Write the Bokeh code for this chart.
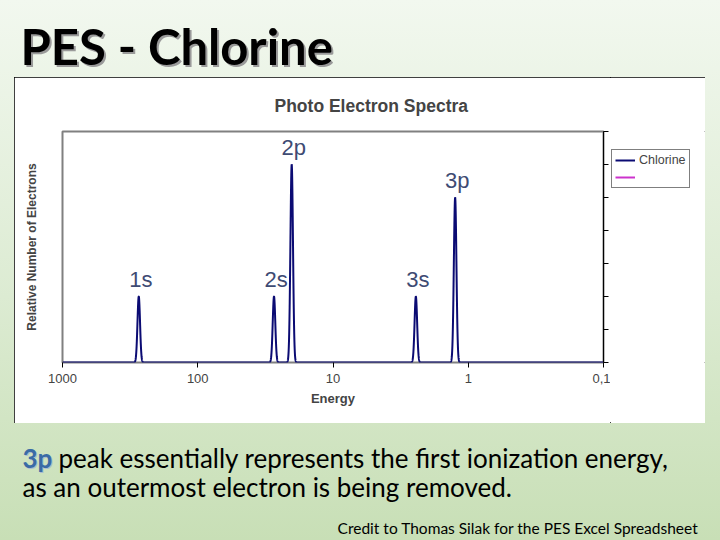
import numpy as np
from bokeh.plotting import figure
from bokeh.models import (Range1d, LogAxis, LinearAxis, FixedTicker, CustomJSTickFormatter,
                          Legend, LegendItem, Spacer, Row, Column)
from bokeh.core.properties import value
from bokeh.embed import file_html
from bokeh.resources import INLINE

# ---------------- data ----------------
ORBITALS = ["1s", "2s", "2p", "3s", "3p"]
ENERGIES = [273, 27.3, 20.2, 2.44, 1.25]      # ionisation energy
ELECTRONS = [2, 2, 6, 2, 5]                  # relative number of electrons
X_TICKS = [1000, 100, 10, 1, 0.1]
X_TICK_LABELS = ["1000", "100", "10", "1", "0,1"]
Y_TICKS = [0, 1, 2, 3, 4, 5, 6, 7]
SERIES = ["Chlorine", " "]                    # second (empty) series has no name
LINE_COLORS = ["#0b0b73", "#cc33cc"]

# spectrum line built from the peaks (narrow peaks on a log energy axis)
xs = np.logspace(3, -1, 8001)
lx = np.log10(xs)
ys = np.zeros_like(xs)
for e, n in zip(ENERGIES, ELECTRONS):
    ys += n * np.exp(-0.5 * ((lx - np.log10(e)) / 0.0095) ** 2)

# ---------------- layout (page pixels) ----------------
W, H = 720, 540
PANEL_L, PANEL_R, PANEL_T, PANEL_B = 14, 705, 77, 423
PH = PANEL_B - PANEL_T
LEG_X, LEG_B = 610, 188                       # legend strip left edge / legend bottom
CW = LEG_X - PANEL_L                          # chart figure width
FL, FR, FT, FB = 62 - PANEL_L, 603 - PANEL_L, 130 - PANEL_T, 362 - PANEL_T


def deco_fig(w, h):
    f = figure(width=w, height=h, x_range=Range1d(0, w), y_range=Range1d(h, 0),
               output_backend="svg", toolbar_location=None,
               x_axis_location=None, y_axis_location=None,
               min_border=0, min_border_left=0, min_border_right=0,
               min_border_top=0, min_border_bottom=0)
    f.grid.visible = False
    f.outline_line_color = None
    f.background_fill_alpha = 0
    f.border_fill_alpha = 0
    return f


# ---- top: slide title ----
top = deco_fig(W, PANEL_T)
for dx, col in ((2, "#9a9a9a"), (0, "black")):
    top.text(x=[20 + dx], y=[74 + dx], text=["PES - Chlorine"], text_font=value("Lato"),
             text_font_style="bold", text_font_size="49px", text_color=col,
             text_baseline="bottom")

# ---- middle: chart ----
p = figure(width=CW, height=PH, output_backend="svg", toolbar_location=None,
           x_axis_type="log", x_range=Range1d(1000, 0.1), y_range=Range1d(0, 7),
           x_axis_location=None, y_axis_location=None,
           min_border_left=FL, min_border_right=CW - FR,
           min_border_top=FT, min_border_bottom=PH - FB)
p.grid.visible = False
p.background_fill_color = "white"
p.border_fill_color = "white"
p.outline_line_color = "#808080"
p.outline_line_width = 2

p.title.text = "Photo Electron Spectra"
p.title.align = "left"
p.title.offset = 212
p.title.standoff = 32
p.title.text_font = "Liberation Sans"
p.title.text_font_size = "17.5px"
p.title.text_font_style = "bold"

xa = LogAxis(ticker=FixedTicker(ticks=X_TICKS),
             formatter=CustomJSTickFormatter(args=dict(t=X_TICKS, l=X_TICK_LABELS), code="""
for (let i = 0; i < t.length; i++) {
  if (Math.abs(Math.log10(tick) - Math.log10(t[i])) < 1e-6) return l[i];
}
return "";
"""))
xa.axis_label = "Energy"
xa.axis_label_text_font = "Liberation Sans"
xa.axis_label_text_font_style = "bold"
xa.axis_label_text_font_size = "13px"
xa.axis_label_standoff = 5
xa.major_label_text_font = "Liberation Sans"
xa.major_label_text_font_size = "13px"
xa.major_label_standoff = 6
xa.axis_line_color = None
xa.major_tick_line_color = "black"
xa.major_tick_out = 5
xa.major_tick_in = 0
xa.minor_tick_line_color = None
p.add_layout(xa, "below")

ra = LinearAxis(ticker=FixedTicker(ticks=Y_TICKS),
                formatter=CustomJSTickFormatter(code="return '';"))
ra.axis_line_color = "black"
ra.major_tick_line_color = "black"
ra.major_tick_out = 5
ra.major_tick_in = 0
ra.major_label_standoff = 0
ra.major_label_text_font_size = "0px"
ra.minor_tick_line_color = None
p.add_layout(ra, "right")

la = LinearAxis(ticker=FixedTicker(ticks=[]))
la.axis_line_color = None
la.axis_label = "Relative Number of Electrons"
la.axis_label_text_font = "Liberation Sans"
la.axis_label_text_font_style = "bold"
la.axis_label_text_font_size = "12px"
la.axis_label_standoff = 24
la.major_label_text_font_size = "0px"
p.add_layout(la, "left")

p.line(xs, ys, line_color=LINE_COLORS[0], line_width=2)

p.text(x=ENERGIES, y=ELECTRONS, text=ORBITALS, text_font=value("Liberation Sans"),
       text_font_size="22px", text_color="#3e4b73", text_align="center",
       text_baseline="bottom", x_offset=2, y_offset=-5)

# ---- legend strip (right part of the chart panel) ----
# its frame lines up with the chart frame; the series are repeated here out of view
lf = figure(width=PANEL_R - LEG_X, height=PH, x_range=Range1d(2000, 3000), y_range=Range1d(0, 7),
            output_backend="svg", toolbar_location=None,
            x_axis_location=None, y_axis_location=None,
            min_border=0, min_border_left=1, min_border_right=0,
            min_border_top=FT, min_border_bottom=PH - FB)
lf.grid.visible = False
lf.outline_line_color = None
lf.background_fill_color = "white"
lf.border_fill_color = "white"
l1 = lf.line(xs, ys, line_color=LINE_COLORS[0], line_width=2)
l2 = lf.line([np.nan], [np.nan], line_color=LINE_COLORS[1], line_width=2)
legend = Legend(items=[LegendItem(label=SERIES[0], renderers=[l1]),
                       LegendItem(label=SERIES[1], renderers=[l2])],
                location=(0, FB + PANEL_T - LEG_B))
legend.border_line_color = "black"
legend.border_line_width = 1
legend.background_fill_color = "white"
legend.background_fill_alpha = 1
legend.label_text_font = "Liberation Sans"
legend.label_text_font_size = "12.5px"
legend.glyph_width = 20
legend.glyph_height = 14
legend.padding = 3
legend.spacing = 3
legend.margin = 0
legend.label_standoff = 4
legend.label_height = 14
lf.add_layout(legend)

panel = Row(children=[p, lf], spacing=0,
            styles={"outline": "1px solid black", "outline-offset": "-1px",
                    "background": "white"})
mid = Row(children=[Spacer(width=PANEL_L, height=PH), panel,
                    Spacer(width=W - PANEL_R, height=PH)], spacing=0)

# ---- bottom: notes ----
BH = H - PANEL_B
bot = deco_fig(W, BH)
yb1, yb2, yb3 = 473 - PANEL_B, 502 - PANEL_B, 536 - PANEL_B
bot.text(x=[23], y=[yb1 + 1], text=["3p"], text_font=value("Lato"), text_font_style="bold",
         text_font_size="26px", text_color="#a9bccf", text_baseline="bottom")
bot.text(x=[22], y=[yb1], text=["3p"], text_font=value("Lato"), text_font_style="bold",
         text_font_size="26px", text_color="#3a6ba5", text_baseline="bottom")
bot.text(x=[58], y=[yb1], text=["peak essentially represents the first ionization energy,"],
         text_font=value("Lato"), text_font_size="26px", text_color="black",
         text_baseline="bottom")
bot.text(x=[22], y=[yb2], text=["as an outermost electron is being removed."],
         text_font=value("Lato"), text_font_size="26px", text_color="black",
         text_baseline="bottom")
bot.text(x=[698], y=[yb3], text=["Credit to Thomas Silak for the PES Excel Spreadsheet"],
         text_font=value("Lato"), text_font_size="15.5px", text_color="black",
         text_align="right", text_baseline="bottom")

page = Column(children=[top, mid, bot], spacing=0,
              styles={"background": "linear-gradient(to bottom, #f2f8ef 0%, #dcebd2 55%, #c8dfb6 100%)"})

open("out.html", "w").write(file_html(page, INLINE))
